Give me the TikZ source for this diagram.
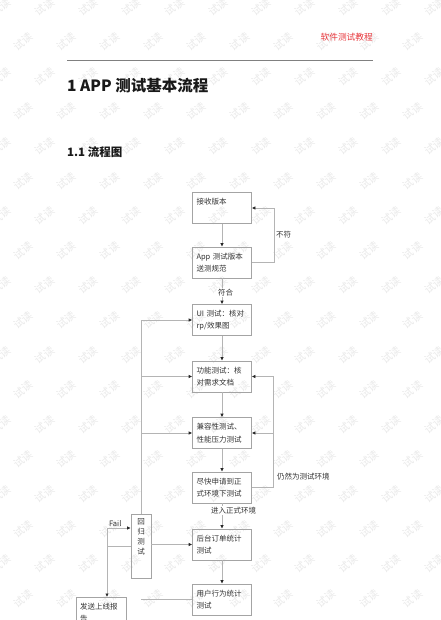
\documentclass[tikz,border=0pt]{standalone}
\usepackage{fontspec}
\setmainfont{Noto Sans CJK SC}
\usepackage{xcolor}
\usetikzlibrary{arrows.meta,positioning,calc}
\definecolor{linegray}{HTML}{B4B4B4}
\definecolor{boxgray}{HTML}{A4A4A4}
\definecolor{textgray}{HTML}{333333}
\definecolor{headred}{HTML}{E8383D}
\definecolor{markgray}{HTML}{EAEAEA}
\tikzset{
	flowbox/.style={
			draw=boxgray, line width=0.7pt,
			minimum width=59pt, minimum height=31pt,
			text width=51pt, inner sep=4pt, align=left,
			text=textgray, font=\fontsize{7.5}{12.5}\selectfont
		},
	conn/.style={draw=linegray, line width=0.7pt},
	flow/.style={conn, -{Latex[length=3.5pt,width=3.5pt,color=black!85]}},
	cond/.style={text=textgray, inner sep=1pt, font=\fontsize{7.5}{9}\selectfont},
	watermark/.style={text=markgray, rotate=38, inner sep=0pt, font=\fontsize{10.5}{10.5}\selectfont}
}

\begin{document}
\begin{tikzpicture}[x=1pt, y=-1pt]
	\clip (0, 0) rectangle (440, 620);
	\fill[white] (0, 0) rectangle (440, 620);

	\foreach \row in {0,...,18}
		\foreach \col in {0,...,10}
			\node[watermark] (wm-\row-\col) at ({1.5 + 43.3*\col + 21.6*mod(\row,2)}, {7 + 34.8*\row}) {试读};

	\node[anchor=east, inner sep=0pt, text=headred, font=\fontsize{8.7}{10}\selectfont] (header) at (373, 37) {软件测试教程};
	\draw[black!50, line width=0.6pt] (67, 60) to (373, 60);
	\node[anchor=west, inner sep=0pt, text=black!90, font=\bfseries\fontsize{15.5}{18}\selectfont] (title) at (67, 86) {1 APP 测试基本流程};
	\node[anchor=west, inner sep=0pt, text=black!90, font=\bfseries\fontsize{11.5}{14}\selectfont] (subtitle) at (67, 152) {1.1 流程图};

	\node[flowbox] (receive) at (222, 208) {接收版本\\\mbox{}};
	\node[flowbox] (spec) at (222, 262.5) {App 测试版本\\送测规范};
	\node[flowbox] (ui) at (222, 320) {UI 测试：核对\\rp/效果图};
	\node[flowbox] (func) at (222, 376.5) {功能测试：核\\对需求文档};
	\node[flowbox] (compat) at (222, 433) {兼容性测试、\\性能压力测试};
	\node[flowbox] (prod) at (222, 487.5) {尽快申请到正\\式环境下测试};
	\node[flowbox] (order) at (222, 544.5) {后台订单统计\\测试};
	\node[flowbox] (user) at (222, 599.5) {用户行为统计\\测试};
	\node[flowbox, minimum width=20pt, minimum height=64pt, text width=12pt, align=center,
		font=\fontsize{7.5}{10}\selectfont] (regress) at (141, 546) {回\\归\\测\\试\\\mbox{}\\\mbox{}};
	\node[flowbox, minimum width=50pt, text width=42pt, anchor=north] (report) at (101, 597) {发送上线报\\告};

	\draw[flow] (receive) to (spec);
	\draw[flow] (spec.east) -- ++(22, 0) coordinate (mismatch) |- (receive.east);
	\node[cond, anchor=west] (mismatchlbl) at (275, 235) {不符};
	\draw[flow] (spec) to node[cond, fill=white, pos=0.55, xshift=3.5pt] (matchlbl) {符合} (ui);
	\draw[flow] (ui) to (func);
	\draw[flow] (func) to (compat);
	\draw[flow] (compat) to (prod);
	\draw[flow] (prod) to node[cond, fill=white, pos=0.3, xshift=11.5pt] (prodlbl) {进入正式环境} (order);
	\draw[flow] (order) to (user);

	\draw[flow] (prod.east) -- ++(21, 0) coordinate (testenv) |- (func.east);
	\draw[flow] (testenv |- compat.east) to (compat.east);
	\node[cond, anchor=west] (testenvlbl) at (276, 477) {仍然为测试环境};

	\draw[conn] (regress.north) to (regress.north |- ui.west);
	\draw[flow] (regress.north |- ui.west) to (ui.west);
	\draw[flow] (regress.north |- func.west) to (func.west);
	\draw[flow] (regress.north |- compat.west) to (compat.west);
	\draw[flow] (regress.east |- order.west) to (order.west);

	\coordinate (fail) at (107, 528);
	\draw[flow] (fail) to node[cond, above, pos=0.35] (faillbl) {Fail} (fail -| regress.west);
	\draw[conn] (regress.west) -| (fail);
	\draw[flow] (fail) to (fail |- report.north);
	\draw[conn] (user.west) to (user.west -| regress);
\end{tikzpicture}
\end{document}
